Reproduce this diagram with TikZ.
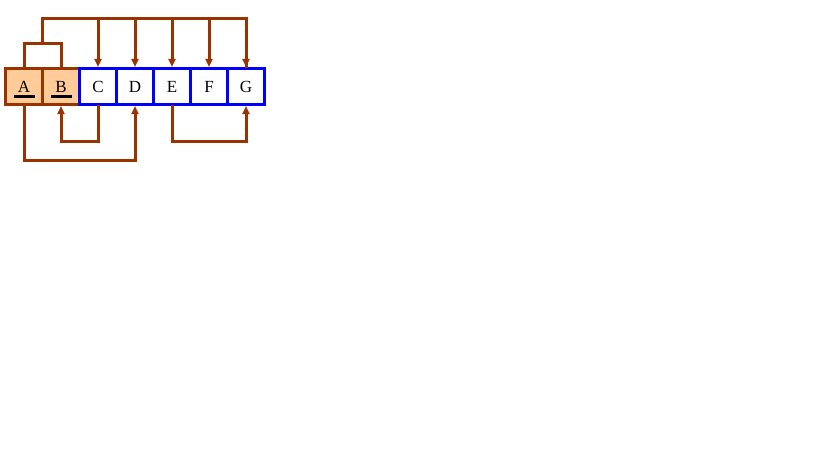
\documentclass[tikz,border=0pt]{standalone}
\usepackage{fontspec}
\setmainfont{Liberation Serif}
\usetikzlibrary{arrows.meta}
\definecolor{brn}{RGB}{153,51,0}
\definecolor{peach}{RGB}{255,204,153}
\begin{document}
\begin{tikzpicture}[x=1pt,y=-1pt,
  cell/.style={draw=blue,line width=3pt,outer sep=0pt,minimum width=37pt,minimum height=36pt,inner sep=0pt,font=\fontsize{17}{20}\selectfont,anchor=north west},
  src/.style={cell,draw=brn,fill=peach},
  conn/.style={draw=brn,line width=3pt},
  arr/.style={conn,-{Triangle[length=8pt,width=7pt]},shorten >=1.5pt},
  uline/.style={draw=black,line width=3pt}]
\useasboundingbox (0,0) rectangle (819,460);
\node[src] (A) at (5.5,68.5) {A};
\node[src] (B) at (42.5,68.5) {B};
\node[cell] (C) at (79.5,68.5) {C};
\node[cell] (D) at (116.5,68.5) {D};
\node[cell] (E) at (153.5,68.5) {E};
\node[cell] (F) at (190.5,68.5) {F};
\node[cell] (G) at (227.5,68.5) {G};
\draw[uline] ([shift={(-10,10)}]A.center) -- ([shift={(11,10)}]A.center);
\draw[uline] ([shift={(-10,10)}]B.center) -- ([shift={(11,10)}]B.center);
\coordinate (j) at (42.5,43.5);
\coordinate (top) at (42.5,18.5);
\draw[conn] (A.north) |- (j) -| (B.north);
\draw[conn] (j) -- (top) -| (G.north);
\draw[arr] (C.north |- top) -- (C.north);
\draw[arr] (D.north |- top) -- (D.north);
\draw[arr] (E.north |- top) -- (E.north);
\draw[arr] (F.north |- top) -- (F.north);
\draw[arr] (G.north |- top) -- (G.north);
\draw[arr] (C.south) -- ++(0,37) -| (B.south);
\draw[arr] (A.south) -- ++(0,56) -| (D.south);
\draw[arr] (E.south) -- ++(0,37) -| (G.south);
\end{tikzpicture}
\end{document}
